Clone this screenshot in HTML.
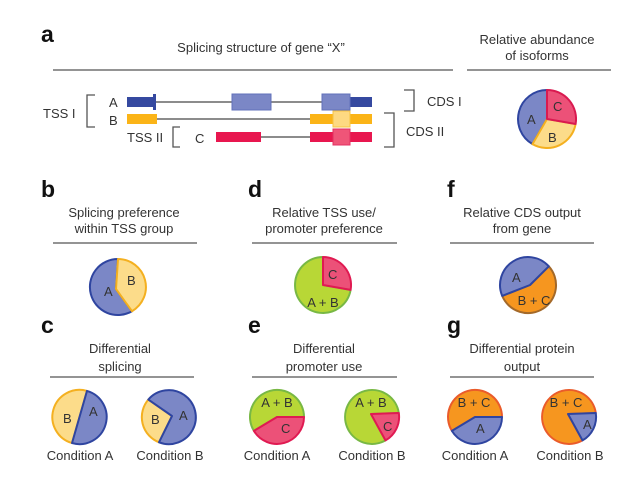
<!DOCTYPE html>
<html><head><meta charset="utf-8"><style>
html,body{margin:0;padding:0;background:#fff}
svg{display:block}
text{font-family:"Liberation Sans",sans-serif;fill:#333;font-size:13px}
.L{font-size:23px;font-weight:bold;fill:#111}
.m{text-anchor:middle}
</style></head><body>
<svg width="640" height="480" viewBox="0 0 640 480">
<text class="L" x="41" y="42">a</text>
<text class="m" x="261" y="52">Splicing structure of gene “X”</text>
<line x1="53" y1="70" x2="453" y2="70" stroke="#555" stroke-width="1.3"/>
<text class="m" x="537" y="44">Relative abundance</text>
<text class="m" x="537" y="60">of isoforms</text>
<line x1="467" y1="70" x2="611" y2="70" stroke="#555" stroke-width="1.3"/>

<text x="43" y="118">TSS I</text>
<path d="M95,95 H87 V127 H95" fill="none" stroke="#555" stroke-width="1.3"/>
<text x="109" y="107">A</text>
<text x="109" y="125">B</text>
<text x="127" y="142">TSS II</text>
<path d="M180,127 H173 V147 H180" fill="none" stroke="#555" stroke-width="1.3"/>
<text x="195" y="143">C</text>

<line x1="127" y1="102" x2="350" y2="102" stroke="#666" stroke-width="1.5"/>
<rect x="127" y="97" width="26" height="10" fill="#3549a0"/>
<rect x="153" y="94" width="3" height="16" fill="#3549a0"/>
<rect x="232" y="94" width="39" height="16" fill="#7b87c6" stroke="#6070bb"/>
<rect x="350" y="97" width="22" height="10" fill="#3549a0"/>
<rect x="322" y="94" width="28" height="16" fill="#7b87c6" stroke="#6070bb"/>
<line x1="127" y1="119" x2="330" y2="119" stroke="#666" stroke-width="1.5"/>
<rect x="127" y="114" width="30" height="10" fill="#fbb417"/>
<rect x="310" y="114" width="62" height="10" fill="#fbb417"/>
<rect x="333" y="111" width="17" height="16" fill="#fdd982" stroke="#f7c443"/>
<line x1="216" y1="137" x2="330" y2="137" stroke="#666" stroke-width="1.5"/>
<rect x="216" y="132" width="45" height="10" fill="#e8174f"/>
<rect x="310" y="132" width="62" height="10" fill="#e8174f"/>
<rect x="333" y="129" width="17" height="16" fill="#ef5578" stroke="#e33062"/>

<path d="M404,90 H414 V111 H404" fill="none" stroke="#555" stroke-width="1.3"/>
<text x="427" y="106">CDS I</text>
<path d="M384,113 H394 V147 H384" fill="none" stroke="#555" stroke-width="1.3"/>
<text x="406" y="136">CDS II</text>

<g stroke-width="2" stroke-linejoin="round">
<path d="M547,119 L532.5,144.1 A29,29 0 0 1 547,90 Z" fill="#7b87c6" stroke="#2f45a0"/>
<path d="M547,119 L575.6,124 A29,29 0 0 1 532.5,144.1 Z" fill="#fcdc8a" stroke="#f4b020"/>
<path d="M547,119 L547,90 A29,29 0 0 1 575.6,124 Z" fill="#ec5178" stroke="#d91a50"/>
</g>
<text x="527" y="124">A</text><text x="553" y="111">C</text><text x="548" y="142">B</text>

<text class="L" x="41" y="197">b</text>
<text class="L" x="248" y="197">d</text>
<text class="L" x="447" y="197">f</text>
<text class="m" x="124" y="217">Splicing preference</text>
<text class="m" x="124" y="233">within TSS group</text>
<text class="m" x="324" y="217">Relative TSS use/</text>
<text class="m" x="324" y="233">promoter preference</text>
<text class="m" x="522" y="217">Relative CDS output</text>
<text class="m" x="522" y="233">from gene</text>
<g stroke="#555" stroke-width="1.3">
<line x1="53" y1="243" x2="197" y2="243"/>
<line x1="252" y1="243" x2="397" y2="243"/>
<line x1="450" y1="243" x2="594" y2="243"/>
</g>
<g stroke-width="2" stroke-linejoin="round">
<path d="M116,289 L132,311.2 A28,28 0 1 1 118,259 Z" fill="#7b87c6" stroke="#2f45a0"/>
<path d="M116,289 L118,259 A28,28 0 0 1 132,311.2 Z" fill="#fcdc8a" stroke="#f4b020"/>
<path d="M323,285 L350.6,289.9 A28,28 0 1 1 323,257 Z" fill="#b8d736" stroke="#78b844"/>
<path d="M323,285 L323,257 A28,28 0 0 1 350.6,289.9 Z" fill="#ec5178" stroke="#e01a52"/>
<path d="M502.2,295.9 L530,285 L548.8,266.3 A28,28 0 1 1 502.2,295.9 Z" fill="#f6961f" stroke="#a3692a"/>
<path d="M502.2,295.9 L530,285 L548.8,266.3 A28,28 0 0 0 502.2,295.9 Z" fill="#7b87c6" stroke="#2f45a0"/>
</g>
<text x="104" y="296">A</text><text x="127" y="285">B</text>
<text x="328" y="279">C</text><text class="m" x="323" y="307">A + B</text>
<text x="512" y="282">A</text><text class="m" x="534" y="305">B + C</text>

<text class="L" x="41" y="333">c</text>
<text class="L" x="248" y="333">e</text>
<text class="L" x="447" y="333">g</text>
<text class="m" x="120" y="353">Differential</text>
<text class="m" x="120" y="371">splicing</text>
<text class="m" x="324" y="353">Differential</text>
<text class="m" x="324" y="371">promoter use</text>
<text class="m" x="522" y="353">Differential protein</text>
<text class="m" x="522" y="371">output</text>
<g stroke="#555" stroke-width="1.3">
<line x1="50" y1="377" x2="194" y2="377"/>
<line x1="252" y1="377" x2="397" y2="377"/>
<line x1="450" y1="377" x2="594" y2="377"/>
</g>
<g stroke-width="2" stroke-linejoin="round">
<path d="M87,390.9 L72,443.1 A27,27 0 0 1 87,390.9 Z" fill="#fcdc8a" stroke="#f4b020"/>
<path d="M87,390.9 L72,443.1 A27,27 0 0 0 87,390.9 Z" fill="#7b87c6" stroke="#2f45a0"/>
<path d="M172,416 L159,442.3 A27,27 0 0 1 148.3,399.6 Z" fill="#fcdc8a" stroke="#f4b020"/>
<path d="M172,416 L148.3,399.6 A27,27 0 1 1 159,442.3 Z" fill="#7b87c6" stroke="#2f45a0"/>

<path d="M277,417 L253.9,430.9 A27,27 0 1 1 304,417 Z" fill="#b8d736" stroke="#78b844"/>
<path d="M277,417 L304,417 A27,27 0 0 1 253.9,430.9 Z" fill="#ec5178" stroke="#e01a52"/>
<path d="M371,414 L385.5,440.4 A27,27 0 1 1 398.8,413 Z" fill="#b8d736" stroke="#78b844"/>
<path d="M371,414 L398.8,413 A27,27 0 0 1 385.5,440.4 Z" fill="#ec5178" stroke="#e01a52"/>

<path d="M475,417 L451.9,430.9 A27,27 0 1 1 502,417 Z" fill="#f6961f" stroke="#ea5b2a"/>
<path d="M475,417 L502,417 A27,27 0 0 1 451.9,430.9 Z" fill="#7b87c6" stroke="#2f45a0"/>
<path d="M568,414 L582.5,440.4 A27,27 0 1 1 595.8,413 Z" fill="#f6961f" stroke="#ea5b2a"/>
<path d="M568,414 L595.8,413 A27,27 0 0 1 582.5,440.4 Z" fill="#7b87c6" stroke="#2f45a0"/>
</g>
<text x="63" y="423">B</text><text x="89" y="416">A</text>
<text x="151" y="424">B</text><text x="179" y="420">A</text>
<text class="m" x="277" y="407">A + B</text><text x="281" y="433">C</text>
<text class="m" x="371" y="407">A + B</text><text x="383" y="431">C</text>
<text class="m" x="474" y="407">B + C</text><text x="476" y="433">A</text>
<text class="m" x="566" y="407">B + C</text><text x="583" y="429">A</text>

<text class="m" x="80" y="460">Condition A</text>
<text class="m" x="170" y="460">Condition B</text>
<text class="m" x="277" y="460">Condition A</text>
<text class="m" x="372" y="460">Condition B</text>
<text class="m" x="475" y="460">Condition A</text>
<text class="m" x="570" y="460">Condition B</text>
</svg>
</body></html>
